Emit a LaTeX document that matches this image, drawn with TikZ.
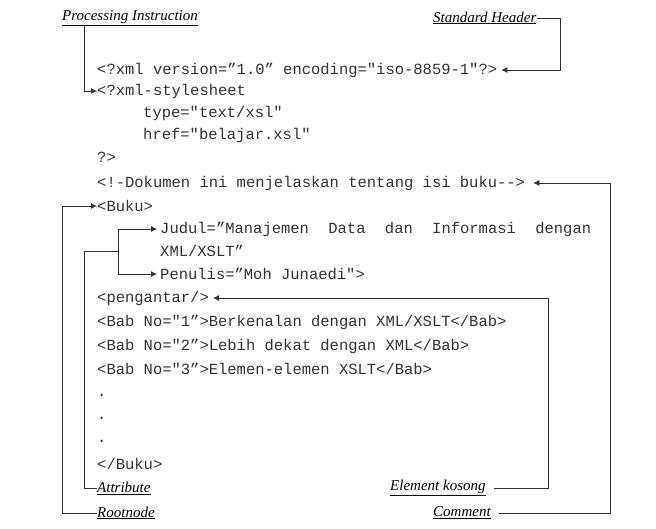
\documentclass[tikz,border=0pt]{standalone}
\usepackage{fontspec}
\setmainfont{Liberation Serif}
\setmonofont{Liberation Mono}
\usetikzlibrary{arrows.meta}
\begin{document}
\begin{tikzpicture}[x=1pt,y=-1pt,
  code/.style={anchor=west,inner sep=0pt,font=\ttfamily\fontsize{15.5}{17}\selectfont,text=black!80},
  lab/.style={anchor=west,inner sep=0pt,font=\itshape\fontsize{15}{17}\selectfont},
  con/.style={draw=black!80,line width=0.8pt},
  arr/.style={con,-{Latex[length=6pt,width=6pt]}}]
\useasboundingbox (0,0) rectangle (656,528);
\node[lab] (pi) at (62,18) {\underline{Processing Instruction}};
\node[lab] (sh) at (433,18) {\underline{Standard Header}};
\node[code] (l1) at (97,70) {<?xml version=”1.0” encoding="iso-8859-1"?>};
\node[code] (l2) at (97,91) {<?xml-stylesheet};
\node[code] (l3) at (143,113) {type="text/xsl"};
\node[code] (l4) at (143,135) {href="belajar.xsl"};
\node[code] (l5) at (97,157) {?>};
\node[code] (l6) at (97,183) {<!-Dokumen ini menjelaskan tentang isi buku-->};
\node[code] (l7) at (97,206) {<Buku>};
\node[code] (l8) at (160,229) {Judul=”Manajemen\hspace{1.25em}Data\hspace{1.25em}dan\hspace{1.25em}Informasi\hspace{1.25em}dengan};
\node[code] (l8b) at (160,251) {XML/XSLT”};
\node[code] (l9) at (160,274) {Penulis=”Moh Junaedi">};
\node[code] (l10) at (97,298) {<pengantar/>};
\node[code] (l11) at (97,322) {<Bab No="1”>Berkenalan dengan XML/XSLT</Bab>};
\node[code] (l12) at (97,346) {<Bab No="2”>Lebih dekat dengan XML</Bab>};
\node[code] (l13) at (97,369) {<Bab No="3”>Elemen-elemen XSLT</Bab>};
\node[code] (d1) at (97,395) {.};
\node[code] (d2) at (97,418) {.};
\node[code] (d3) at (97,441) {.};
\node[code] (l14) at (97,464) {</Buku>};
\node[lab] (at) at (97,488) {\underline{Attribute}};
\node[lab] (ek) at (390,488) {\underline{Element kosong}};
\node[lab] (rn) at (97,513) {\underline{Rootnode}};
\node[lab] (cm) at (433,513) {\underline{Comment}};
% connectors
\draw[arr] (84,26) |- (l2.west);
\draw[arr] (sh.east) -| (560,70) -- ([xshift=4pt]l1.east);
\draw[arr] ([xshift=8pt]cm.east) -| (610,183) -- ([xshift=8pt]l6.east);
\draw[arr] ([xshift=8pt]ek.east) -| (548,298) -- ([xshift=4pt]l10.east);
\draw[arr] (rn.west) -| (62,206) -- (l7.west);
\draw[con] (at.west) -| (84,251) -- (118,251);
\draw[arr] (118,274) |- ([xshift=-3pt]l8.west);
\draw[arr] (118,251) |- ([xshift=-3pt]l9.west);
\end{tikzpicture}
\end{document}
